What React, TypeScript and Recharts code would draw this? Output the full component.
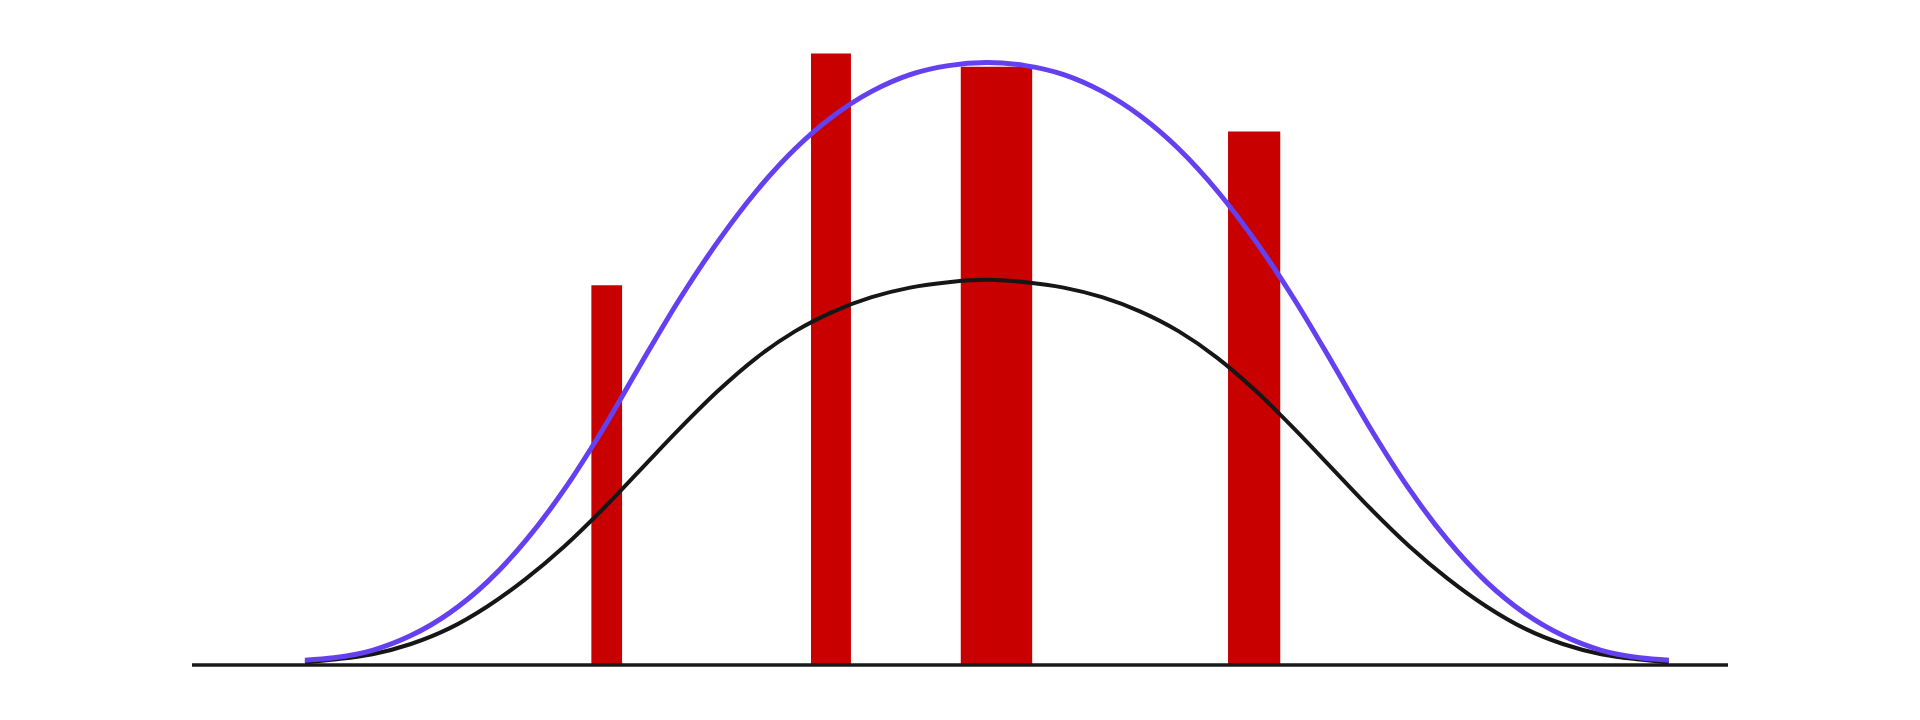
import React from "react";
import { ComposedChart, Line, XAxis, YAxis, ReferenceArea, ReferenceLine } from "recharts";

// Bars (columns): start x, end x, height
const barStarts = [26.0, 40.3, 50.05, 67.45];
const barEnds = [28.0, 42.9, 54.7, 70.85];
const barHeights = [63.3, 101.9, 99.7, 88.9];

// Sample positions along the curves (shared by both curves)
const curveX = [
  7.35, 9.25, 11.75, 14.25, 16.75, 19.25, 21.75, 24.25, 26.75, 29.25, 31.75, 34.25, 36.75, 39.25, 41.75, 44.25, 46.75, 49.25,
  51.75,
  54.25, 56.75, 59.25, 61.75, 64.25, 66.75, 69.25, 71.75, 74.25, 76.75, 79.25, 81.75, 84.25, 86.75, 89.25, 91.75, 94.25, 96.15,
];

// Purple (taller) bell curve
const purpleY = [
  0.8, 1.2, 2.45, 4.9, 8.65, 13.9, 20.8, 29.3, 39.3, 50.3, 61.0, 70.6, 79.0, 86.0, 91.5, 95.6, 98.4, 99.9,
  100.4,
  99.9, 98.4, 95.6, 91.5, 86.0, 79.0, 70.6, 61.0, 50.3, 39.3, 29.3, 20.8, 13.9, 8.65, 4.9, 2.45, 1.2, 0.8,
];

// Black (lower) bell curve
const blackY = [
  0.4, 0.9, 1.8, 3.5, 6.1, 9.8, 14.4, 19.8, 26.0, 32.7, 39.4, 45.7, 51.2, 55.6, 58.9, 61.3, 62.9, 63.8,
  64.2,
  63.8, 62.9, 61.3, 58.9, 55.6, 51.2, 45.7, 39.4, 32.7, 26.0, 19.8, 14.4, 9.8, 6.1, 3.5, 1.8, 0.9, 0.4,
];

const purpleData = curveX.map((x, i) => ({ x, y: purpleY[i] }));
const blackData = curveX.map((x, i) => ({ x, y: blackY[i] }));

export default function App() {
  return (
    <div style={{ position: "absolute", left: 0, top: 0, width: 1920, height: 720, background: "#ffffff" }}>
      <ComposedChart width={1920} height={720} margin={{ top: 5, right: 192, bottom: 55, left: 192 }}>
        <XAxis type="number" dataKey="x" domain={[0, 100]} allowDataOverflow hide />
        <YAxis type="number" domain={[0, 110]} allowDataOverflow hide />
        {barStarts.map((s, i) => (
          <ReferenceArea
            key={i}
            x1={s}
            x2={barEnds[i]}
            y1={0}
            y2={barHeights[i]}
            fill="#c80000"
            fillOpacity={1}
            stroke="none"
            ifOverflow="visible"
          />
        ))}
        <Line
          data={blackData}
          dataKey="y"
          type="monotone"
          stroke="#161616"
          strokeWidth={4}
          dot={false}
          activeDot={false}
          isAnimationActive={false}
        />
        <Line
          data={purpleData}
          dataKey="y"
          type="monotone"
          stroke="#6540f0"
          strokeWidth={5}
          dot={false}
          activeDot={false}
          isAnimationActive={false}
        />
        <ReferenceLine y={0} stroke="#1a1a1a" strokeWidth={3.5} ifOverflow="visible" />
      </ComposedChart>
    </div>
  );
}
